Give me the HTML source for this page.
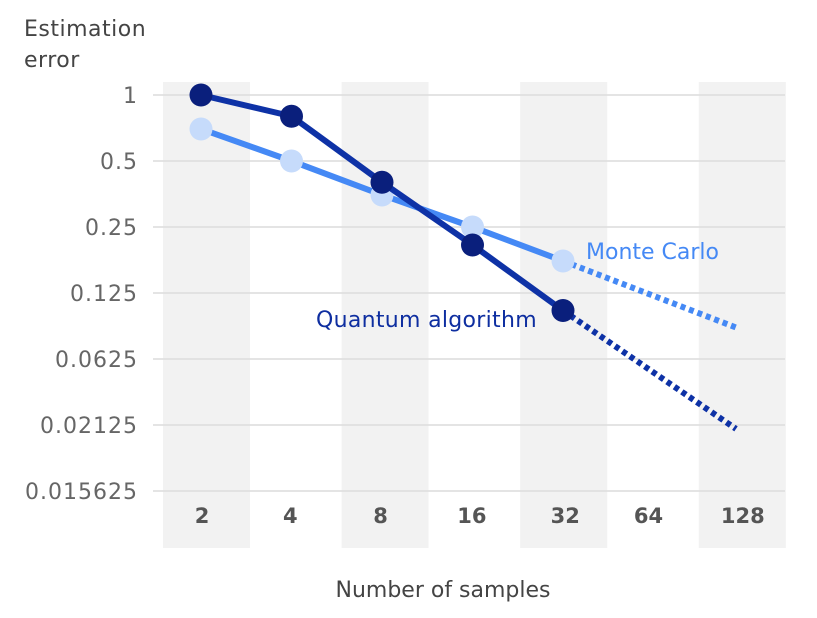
<!DOCTYPE html>
<html><head><meta charset="utf-8"><style>
body{margin:0;background:#fff;width:817px;height:614px;overflow:hidden;font-family:"DejaVu Sans","Liberation Sans",sans-serif}
text{font-family:"DejaVu Sans","Liberation Sans",sans-serif}
</style></head><body>
<svg id="chart" width="817" height="614" xmlns="http://www.w3.org/2000/svg">
<g id="bands"></g><g id="grid"></g><g id="ylabels"></g><g id="xlabels"></g><g id="series"></g>
<text x="24" y="36" font-size="22" letter-spacing="0.5" fill="#444">Estimation</text>
<text x="24" y="67" font-size="22" letter-spacing="0.5" fill="#444">error</text>
<text x="443" y="597" font-size="22" fill="#444" text-anchor="middle">Number of samples</text>
<text x="586" y="259" font-size="22" fill="#4589f5">Monte Carlo</text>
<text x="316" y="327" font-size="22" letter-spacing="0.3" fill="#0e2ea0">Quantum algorithm</text>
</svg>
<script>
const categories=[2,4,8,16,32,64,128];
const yTicks=[1,0.5,0.25,0.125,0.0625,0.02125,0.015625];
const quantum=[1,0.8,0.4,0.207,0.104];
const quantumProj=[0.104,0.03];
const monteCarlo=[0.7,0.5,0.35,0.25,0.175];
const monteCarloProj=[0.175,0.087];
const NS="http://www.w3.org/2000/svg";
function x(n){return 201+(Math.log2(n)-1)*90.5;}
function yIdx(i){return 95+i*66;}
function y(v){return 95-Math.log2(v)*66;}
function mk(tag,attrs,parent){const e=document.createElementNS(NS,tag);for(const k in attrs)e.setAttribute(k,attrs[k]);document.getElementById(parent).appendChild(e);return e;}
categories.forEach((c,i)=>{
  const x0=163+i*89.3;
  if(i%2===0){const r=mk('rect',{x:x0,y:82,width:87,height:466,fill:'#f2f2f2'},'bands');
  
  }
  const t=mk('text',{x:x0+(i===6?44:i===4?45:i===3?41:i===1?38:39),y:523,'font-size':21,'font-weight':'bold',fill:'#555','text-anchor':'middle'},'xlabels');
  t.textContent=c;
  
  
});
yTicks.forEach((v,i)=>{
  const l=mk('line',{x1:153,x2:785,y1:yIdx(i),y2:yIdx(i),stroke:'#dcdcdc','stroke-width':1.5},'grid');
  
  
  const t=mk('text',{x:138,y:yIdx(i)+8,'font-size':22,fill:'#666','text-anchor':'end','letter-spacing':'1'},'ylabels');
  t.textContent=v;
  
  
});
function series(vals,proj,lineC,dotC,name){
  const pts=vals.map((v,i)=>x(categories[i])+','+y(v)).join(' ');
  const pl=mk('polyline',{points:pts,fill:'none',stroke:lineC,'stroke-width':6},'series');
  
  
  const n=vals.length-1;
  const d=mk('line',{x1:x(categories[n]),y1:y(proj[0]),x2:x(categories[6])-8,y2:y(proj[1]),stroke:lineC,'stroke-width':6,'stroke-dasharray':'5 4'},'series');
  
  
  vals.forEach((v,i)=>{const c=mk('circle',{cx:x(categories[i]),cy:y(v),r:11.5,fill:dotC},'series');
  
  });
}
series(monteCarlo,monteCarloProj,'#4589f5','#c6dbfb','monte-carlo');
series(quantum,quantumProj,'#0e32a6','#0a1f7c','quantum');
</script>
</body></html>
